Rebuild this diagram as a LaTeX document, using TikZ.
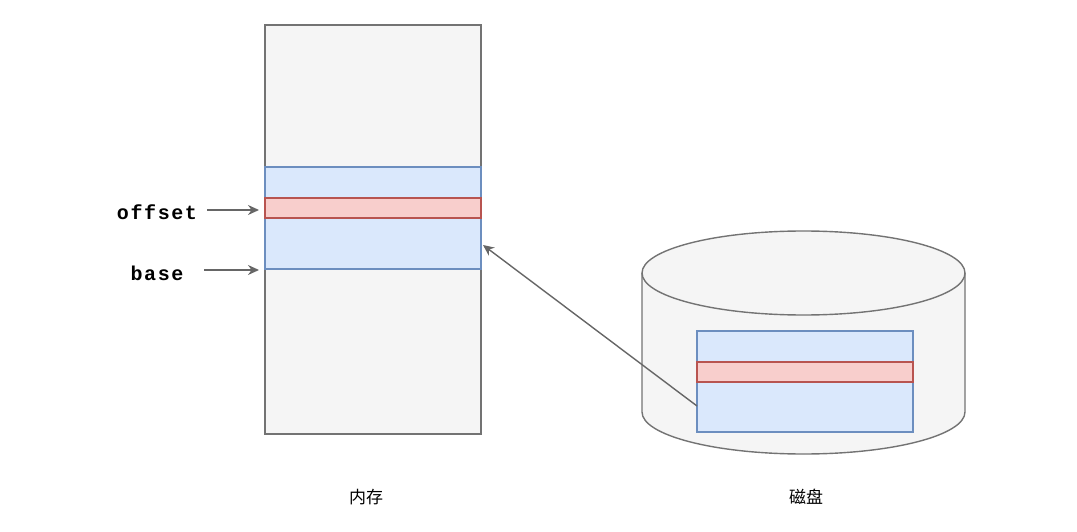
\documentclass[tikz,border=0pt]{standalone}
\usepackage{fontspec}
\usetikzlibrary{arrows.meta}
\newfontfamily\cjk{Noto Sans CJK SC}
\setmonofont{Liberation Mono}
\tikzset{
 gbox/.style={draw=black!55,fill=black!4,line width=1.4pt},
 bbox/.style={draw={rgb,255:red,108;green,142;blue,191},fill={rgb,255:red,218;green,232;blue,252},line width=1.4pt},
 rbox/.style={draw={rgb,255:red,184;green,84;blue,80},fill={rgb,255:red,248;green,206;blue,204},line width=1.4pt},
 arr/.style={draw=black!60,line width=1.4pt,-{Stealth[length=11pt,width=10pt]}},
 lbl/.style={font=\ttfamily\bfseries\fontsize{20}{22}\selectfont\addfontfeature{LetterSpace=8}}
}
\begin{document}
\begin{tikzpicture}[x=1pt,y=-1pt]
\useasboundingbox (0,0) rectangle (1077,532);
\draw[gbox] (265,25) rectangle (481,434);
\draw[bbox] (265,167) rectangle (481,269);
\draw[rbox] (265,198) rectangle (481,218);
\node[lbl] (off) at (157,212) {offset};
\node[lbl] (base) at (157,273) {base};
\coordinate (offs) at (207,210);
\coordinate (offt) at (259,210);
\coordinate (bases) at (204,270);
\coordinate (baset) at (259,270);
\draw[arr] (offs) -- (offt);
\draw[arr] (bases) -- (baset);
% cylinder
\draw[gbox] (642,273) -- (642,412) arc[start angle=180,end angle=0,x radius=161.5,y radius=42] -- (965,273);
\draw[gbox] (803.5,273) ellipse[x radius=161.5,y radius=42];
\draw[bbox] (697,331) rectangle (913,432);
\draw[rbox] (697,362) rectangle (913,382);
\coordinate (src) at (697,406);
\coordinate (dst) at (483,245);
\draw[arr] (src) -- (dst);
\node[font=\cjk\fontsize{17}{19}\selectfont] (mem) at (366,497) {内存};
\node[font=\cjk\fontsize{17}{19}\selectfont] (disk) at (806,497) {磁盘};
\end{tikzpicture}
\end{document}
